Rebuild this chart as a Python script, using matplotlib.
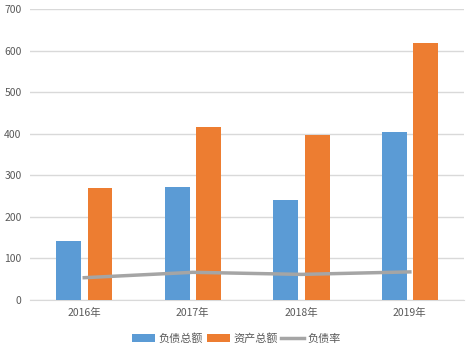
import matplotlib.pyplot as plt
import numpy as np

plt.rcParams['font.family'] = ['Noto Sans CJK SC', 'DejaVu Sans']

years = ['2016年', '2017年', '2018年', '2019年']
debt = [142, 271, 241, 405]
assets = [269, 417, 398, 618]
ratio = [53, 66, 61, 67]

fig = plt.figure(figsize=(4.76, 3.53), dpi=100)
ax = fig.add_axes([0.063, 0.151, 0.912, 0.823])

x = np.arange(len(years))
w = 0.23
b1 = ax.bar(x - 0.145, debt, w, color='#5B9BD5', label='负债总额', zorder=3)
b2 = ax.bar(x + 0.145, assets, w, color='#ED7D31', label='资产总额', zorder=3)
l1, = ax.plot(x, ratio, color='#A5A5A5', lw=2.5, label='负债率', zorder=4)

ax.set_xlim(-0.5, 3.5)
ax.set_ylim(0, 700)
ax.set_yticks(range(0, 701, 100))
ax.set_xticks(x)
ax.set_xticklabels(years)
ax.grid(axis='y', color='#D9D9D9', lw=1, zorder=0)
for s in ['top', 'right', 'left']:
    ax.spines[s].set_visible(False)
ax.spines['bottom'].set_color('#D9D9D9')
ax.tick_params(length=0, colors='#595959', labelsize=7.5, pad=6)

ax.legend(handles=[b1, b2, l1], loc='center', bbox_to_anchor=(0.476, -0.133), ncol=3,
          frameon=False, fontsize=8, labelcolor='#595959', handlelength=2.1,
          handleheight=0.75, columnspacing=0.3, handletextpad=0.3)

fig.savefig('out.png', dpi=100)
